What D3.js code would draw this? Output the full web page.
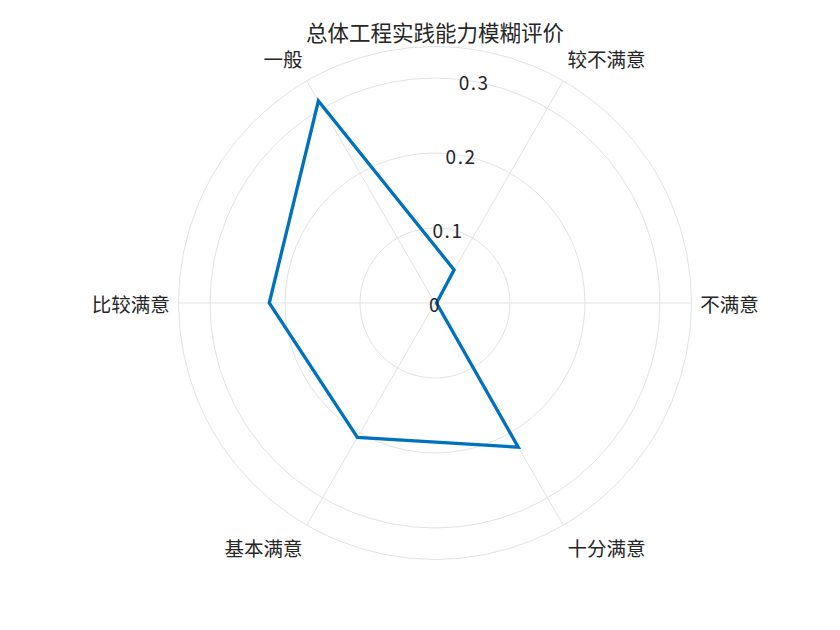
<!DOCTYPE html>
<html>
<head>
<meta charset="utf-8">
<script src="https://cdn.jsdelivr.net/npm/d3@7"></script>
<style>
  body { margin: 0; background: #fff; }
  text { font-family: "Noto Sans CJK SC", "Noto Sans", sans-serif; fill: #262626; }
</style>
</head>
<body>
<div id="chart"></div>
<script>
// categories around the circle, counter-clockwise from 0 deg
const categories = ["不满意", "较不满意", "一般", "比较满意", "基本满意", "十分满意"];
const angles = [0, 60, 120, 180, 240, 300];
const values = [0.002, 0.051, 0.311, 0.221, 0.207, 0.222];
const rTicks = [0, 0.1, 0.2, 0.3];
const rTickLabels = ["0", "0.1", "0.2", "0.3"];
const rMax = 0.342;

const width = 840, height = 630;
const cx = 435, cy = 303;
const outerR = 256.5;

const svg = d3.select("#chart").append("svg")
    .attr("width", width)
    .attr("height", height);

const r = d3.scaleLinear().domain([0, rMax]).range([0, outerR]);
const rad = a => a * Math.PI / 180;
const px = (a, v) => cx + r(v) * Math.cos(rad(a));
const py = (a, v) => cy - r(v) * Math.sin(rad(a));

const g = svg.append("g");

// rings
g.selectAll(".ring")
    .data(rTicks.filter(d => d > 0).concat([rMax]))
    .enter().append("circle")
    .attr("cx", cx).attr("cy", cy)
    .attr("r", d => r(d))
    .attr("fill", "none")
    .attr("stroke", "#e3e3e3")
    .attr("stroke-width", 1);

// spokes
g.selectAll(".spoke")
    .data(angles)
    .enter().append("line")
    .attr("x1", cx).attr("y1", cy)
    .attr("x2", d => px(d, rMax))
    .attr("y2", d => py(d, rMax))
    .attr("stroke", "#e3e3e3")
    .attr("stroke-width", 1);

// data polygon
const line = d3.line()
    .x((d, i) => px(angles[i], d))
    .y((d, i) => py(angles[i], d))
    .curve(d3.curveLinearClosed);

g.append("path")
    .datum(values)
    .attr("d", line)
    .attr("fill", "none")
    .attr("stroke", "#0072BD")
    .attr("stroke-width", 3.3)
    .attr("stroke-linejoin", "miter");

// r tick labels along 80 deg
g.selectAll(".rlabel")
    .data(rTicks)
    .enter().append("text")
    .attr("x", d => px(80, d))
    .attr("y", d => py(80, d))
    .attr("text-anchor", "middle")
    .attr("dominant-baseline", "central")
    .style("font-size", "19px")
    .style("letter-spacing", "1.5px")
    .text((d, i) => rTickLabels[i]);

// theta labels
const labelR = 0.3535;
function anchor(a) {
    const c = Math.cos(rad(a));
    if (Math.abs(c) < 0.01) return "middle";
    return c > 0 ? "start" : "end";
}
function baseline(a) {
    const s = Math.sin(rad(a));
    if (Math.abs(s) < 0.01) return "central";
    return s > 0 ? "text-after-edge" : "text-before-edge";
}
g.selectAll(".tlabel")
    .data(categories)
    .enter().append("text")
    .attr("x", (d, i) => px(angles[i], labelR))
    .attr("y", (d, i) => py(angles[i], labelR))
    .attr("text-anchor", (d, i) => anchor(angles[i]))
    .attr("dominant-baseline", (d, i) => baseline(angles[i]))
    .style("font-size", "19.5px")
    .text(d => d);

// title
svg.append("text")
    .attr("x", cx)
    .attr("y", 31)
    .attr("text-anchor", "middle")
    .attr("dominant-baseline", "central")
    .style("font-size", "21.5px")
    .text("总体工程实践能力模糊评价");
</script>
</body>
</html>
